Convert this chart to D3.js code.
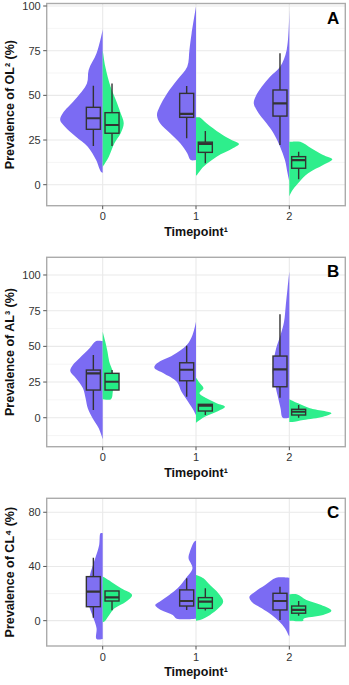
<!DOCTYPE html>
<html>
<head>
<meta charset="utf-8">
<script src="https://cdn.jsdelivr.net/npm/d3@7/dist/d3.min.js"></script>
<style>
  html, body { margin: 0; padding: 0; background: #fff; }
  svg { display: block; }
  text { font-family: "Liberation Sans", Arial, sans-serif; }
</style>
</head>
<body>
<svg id="chart" width="349" height="685"></svg>
<script>
// ---------- DATA ----------
const timepoints = ["0", "1", "2"];
const panelLetters = ["A", "B", "C"];
const yTitles = ["Prevalence of OL\u00B2 (%)", "Prevalence of AL\u00B3 (%)", "Prevalence of CL\u2074 (%)"];
const xTitle = "Timepoint\u00B9";

const A_ticks = [0, 25, 50, 75, 100];
const B_ticks = [0, 25, 50, 75, 100];
const C_ticks = [0, 40, 80];
const A_limits = [-11.75, 101.4];
const B_limits = [-20.3, 112.4];
const C_limits = [-18.7, 90.3];

// violin half profiles: [value, relative density]
const A_violinPurple = [
  [[87,0],[85.6,0.01],[73.5,0.14],[64.2,0.32],[56.7,0.36],[47.4,0.64],[40,0.91],[36.2,0.97],[32.5,0.86],[26.9,0.61],[21.3,0.34],[13.8,0.15],[7.3,0.04],[6.7,0]],
  [[99.6,0],[84.7,0.10],[75.4,0.15],[66,0.20],[58.6,0.43],[51.1,0.66],[43.6,0.83],[39,0.89],[34.4,0.82],[28.8,0.59],[23.2,0.36],[17.6,0.20],[13.8,0.12],[13.8,0]],
  [[97.8,0],[75.4,0.06],[66,0.21],[60.4,0.44],[54.8,0.63],[49.2,0.77],[45.5,0.81],[40,0.70],[34.4,0.52],[28.8,0.36],[21.3,0.21],[13.8,0.10],[6.4,0.04],[1.7,0]]
];
const A_violinGreen = [
  [[75.4,0],[66,0.06],[54.8,0.18],[47.4,0.30],[40,0.41],[34.4,0.48],[28.8,0.41],[23.3,0.27],[15.7,0.14],[10,0]],
  [[37.7,0],[37.7,0.08],[34.4,0.24],[28.8,0.55],[25,0.81],[22.8,0.98],[20.4,0.84],[15.7,0.47],[10,0.17],[5.4,0.02],[5,0]],
  [[24,0],[24,0.25],[20.4,0.50],[16.6,0.77],[14.2,0.98],[11,0.77],[6.4,0.43],[0.8,0.20],[-3.9,0.05],[-6.5,0]]
];
const B_violinPurple = [
  [[53.7,0],[53.7,0.15],[48.6,0.30],[41.6,0.53],[36.9,0.68],[32.7,0.74],[27.6,0.61],[20.6,0.45],[13.6,0.39],[6.6,0.34],[-0.4,0.23],[-7.4,0.09],[-15,0]],
  [[67.3,0],[58,0.08],[51,0.21],[44,0.52],[38.1,0.89],[35,0.95],[31.1,0.74],[25.2,0.44],[18.2,0.33],[11.2,0.18],[5.4,0.06],[1.9,0]],
  [[102.3,0],[90.7,0.04],[79,0.08],[67.3,0.12],[58,0.20],[48.6,0.30],[39.2,0.36],[32.2,0.38],[25.2,0.34],[15.9,0.27],[6.6,0.20],[0,0.15],[0,0]]
];
const B_violinGreen = [
  [[60.3,0],[53.3,0.06],[46.3,0.11],[39.3,0.15],[32.2,0.23],[25.2,0.24],[18.2,0.23],[13,0.19],[13,0]],
  [[28,0],[24.1,0.09],[20.6,0.17],[17.1,0.08],[13.6,0.24],[10.1,0.47],[7.7,0.66],[4.2,0.47],[0.7,0.20],[-2.8,0.03],[-3.5,0]],
  [[13,0],[10.1,0.20],[6.6,0.47],[3.1,0.96],[0.7,0.77],[-1.6,0.32],[-3,0.07],[-3,0]]
];
const C_violinPurple = [
  [[64.5,0],[64.5,0.05],[55.9,0.08],[46,0.17],[36.2,0.27],[26.3,0.34],[19,0.38],[11.6,0.32],[1.8,0.21],[-5.6,0.14],[-13.5,0.14],[-13.5,0]],
  [[59,0],[58.3,0.04],[50.9,0.14],[46,0.17],[38.7,0.08],[31.3,0.23],[23.9,0.42],[19,0.61],[14,0.83],[11.6,0.93],[7.9,0.80],[4.2,0.53],[1.5,0.44],[1.5,0]],
  [[31.7,0],[31.7,0.30],[26.3,0.55],[21.4,0.78],[17.7,0.91],[14,0.86],[9.1,0.63],[4.2,0.40],[-0.7,0.23],[-5.6,0.10],[-10.5,0.02],[-11.5,0]]
];
const C_violinGreen = [
  [[32.5,0],[28.8,0.19],[23.9,0.42],[19,0.67],[14,0.53],[9.1,0.27],[4.2,0.15],[-0.7,0.04],[-1.2,0]],
  [[33.7,0],[31.3,0.17],[26.3,0.32],[20.2,0.51],[14,0.62],[9.1,0.51],[4.2,0.32],[0.5,0.09],[0,0]],
  [[19.5,0],[19.5,0.17],[15.3,0.39],[11.6,0.73],[7.4,0.96],[4.2,0.77],[1.3,0.32],[0,0.32],[0,0]]
];

// boxplot stats: [lower whisker, Q1, median, Q3, upper whisker]
const A_boxPurple = [[21.7,31.0,37.2,43.3,55.4],[26,37.7,39.6,51.1,55.2],[22.2,38.4,45.5,53,73.5]];
const A_boxGreen  = [[21.7,28.8,33.4,40.3,56.7],[12,18.1,22.8,23.8,30],[3,9.2,13.8,15.7,18.5]];
const B_boxPurple = [[5.4,19.4,31.1,33.4,43.9],[14.7,25.9,33.6,38.5,50.5],[14,21.7,33.9,43.2,72.5]];
const B_boxGreen  = [[19.4,19.4,25.2,31.1,33.4],[1.9,4.7,8.4,9.4,9.4],[0,1.9,4.2,5.9,8.9]];
const C_boxPurple = [[2.2,10.3,21.4,32.5,46.5],[7.9,10.8,14.5,22.7,31.3],[0.5,7.9,14.5,20.2,25.1]];
const C_boxGreen  = [[7.7,14.5,17.2,21.9,21.9],[7.5,9.1,14,17,23.9],[3.7,5.5,7.9,10.8,14.5]];

// ---------- LAYOUT / STYLE ----------
const purple = "#7b6bf3";
const green = "#2eee8c";
const boxPurple = "#7f70f2";
const boxGreen = "#24ec85";
const left = 46.7, right = 345.3;
const panels = [
  {top: 3.5, bottom: 205.7, limits: A_limits, ticks: A_ticks, vp: A_violinPurple, vg: A_violinGreen, bp: A_boxPurple, bg: A_boxGreen},
  {top: 257.3, bottom: 446.7, limits: B_limits, ticks: B_ticks, vp: B_violinPurple, vg: B_violinGreen, bp: B_boxPurple, bg: B_boxGreen},
  {top: 498.3, bottom: 646, limits: C_limits, ticks: C_ticks, vp: C_violinPurple, vg: C_violinGreen, bp: C_boxPurple, bg: C_boxGreen}
];

const svg = d3.select("#chart");
svg.append("rect").attr("width", 349).attr("height", 685).attr("fill", "#fff");

const x = d3.scalePoint().domain(timepoints).range([left, right]).padding(0.6);
const step = x.step();
const wScale = d3.scaleLinear().domain([0, 1]).range([0, 0.47 * step]);
const boxOff = 0.1 * step, boxW = 0.15 * step;

panels.forEach((p, i) => {
  const y = d3.scaleLinear().domain(p.limits).range([p.bottom, p.top]);
  const g = svg.append("g");

  const clipId = "clip" + i;
  svg.append("clipPath").attr("id", clipId).append("rect")
    .attr("x", left).attr("y", p.top).attr("width", right - left).attr("height", p.bottom - p.top);

  const plot = g.append("g").attr("clip-path", `url(#${clipId})`);

  // minor grid
  const tstep = p.ticks[1] - p.ticks[0];
  const minors = [];
  for (let v = p.ticks[0] - tstep / 2; v <= p.limits[1]; v += tstep) {
    if (v >= p.limits[0]) minors.push(v);
  }
  plot.selectAll(".minor").data(minors).join("line")
    .attr("x1", left).attr("x2", right)
    .attr("y1", d => y(d)).attr("y2", d => y(d))
    .attr("stroke", "#f2f2f2").attr("stroke-width", 0.8);
  plot.selectAll(".major").data(p.ticks).join("line")
    .attr("x1", left).attr("x2", right)
    .attr("y1", d => y(d)).attr("y2", d => y(d))
    .attr("stroke", "#e9e9e9").attr("stroke-width", 1.1);
  plot.selectAll(".vgrid").data(timepoints).join("line")
    .attr("x1", d => x(d)).attr("x2", d => x(d))
    .attr("y1", p.top).attr("y2", p.bottom)
    .attr("stroke", "#e9e9e9").attr("stroke-width", 1.1);

  // violins
  const curve = d3.curveCatmullRom.alpha(0.5);
  timepoints.forEach((t, j) => {
    const cx = x(t);
    const areaL = d3.area().curve(curve)
      .y(d => y(d[0])).x0(cx).x1(d => cx - wScale(d[1]));
    const areaR = d3.area().curve(curve)
      .y(d => y(d[0])).x0(cx).x1(d => cx + wScale(d[1]));
    plot.append("path").datum(p.vp[j]).attr("d", areaL).attr("fill", purple);
    plot.append("path").datum(p.vg[j]).attr("d", areaR).attr("fill", green);
  });

  // boxes
  const drawBox = (stats, cx, fill) => {
    const [lo, q1, med, q3, hi] = stats;
    const bg = plot.append("g");
    bg.append("line").attr("x1", cx).attr("x2", cx).attr("y1", y(hi)).attr("y2", y(q3))
      .attr("stroke", "#333").attr("stroke-width", 1.4);
    bg.append("line").attr("x1", cx).attr("x2", cx).attr("y1", y(q1)).attr("y2", y(lo))
      .attr("stroke", "#333").attr("stroke-width", 1.4);
    bg.append("rect").attr("x", cx - boxW / 2).attr("width", boxW)
      .attr("y", y(q3)).attr("height", Math.max(0.5, y(q1) - y(q3)))
      .attr("fill", fill).attr("stroke", "#333").attr("stroke-width", 1.4);
    bg.append("line").attr("x1", cx - boxW / 2).attr("x2", cx + boxW / 2)
      .attr("y1", y(med)).attr("y2", y(med))
      .attr("stroke", "#333").attr("stroke-width", 2.2);
  };
  timepoints.forEach((t, j) => {
    drawBox(p.bp[j], x(t) - boxOff, boxPurple);
    drawBox(p.bg[j], x(t) + boxOff, boxGreen);
  });

  // border
  g.append("rect").attr("x", left).attr("y", p.top)
    .attr("width", right - left).attr("height", p.bottom - p.top)
    .attr("fill", "none").attr("stroke", "#ababab").attr("stroke-width", 1.4);

  // y axis ticks
  const yt = g.append("g");
  yt.selectAll("line").data(p.ticks).join("line")
    .attr("x1", left - 3.5).attr("x2", left)
    .attr("y1", d => y(d)).attr("y2", d => y(d))
    .attr("stroke", "#555").attr("stroke-width", 1);
  yt.selectAll("text").data(p.ticks).join("text")
    .attr("x", left - 6).attr("y", d => y(d)).attr("dy", "0.36em")
    .attr("text-anchor", "end").attr("font-size", 11).attr("fill", "#333")
    .text(d => d);

  // x axis ticks
  const xt = g.append("g");
  xt.selectAll("line").data(timepoints).join("line")
    .attr("x1", d => x(d)).attr("x2", d => x(d))
    .attr("y1", p.bottom).attr("y2", p.bottom + 3.5)
    .attr("stroke", "#555").attr("stroke-width", 1);
  xt.selectAll("text").data(timepoints).join("text")
    .attr("x", d => x(d)).attr("y", p.bottom + 14.5)
    .attr("text-anchor", "middle").attr("font-size", 11).attr("fill", "#333")
    .text(d => d);

  // x title
  g.append("text").attr("x", (left + right) / 2).attr("y", p.bottom + 30)
    .attr("text-anchor", "middle").attr("font-size", 12.5).attr("font-weight", "bold")
    .attr("fill", "#111").text(xTitle);

  // y title
  g.append("text")
    .attr("transform", `translate(14,${(p.top + p.bottom) / 2}) rotate(-90)`)
    .attr("text-anchor", "middle").attr("font-size", 12.5).attr("font-weight", "bold")
    .attr("fill", "#111").text(yTitles[i]);

  // panel letter
  g.append("text").attr("x", right - 6).attr("y", p.top + 20)
    .attr("text-anchor", "end").attr("font-size", 17).attr("font-weight", "bold")
    .attr("fill", "#000").text(panelLetters[i]);
});
</script>
</body>
</html>
